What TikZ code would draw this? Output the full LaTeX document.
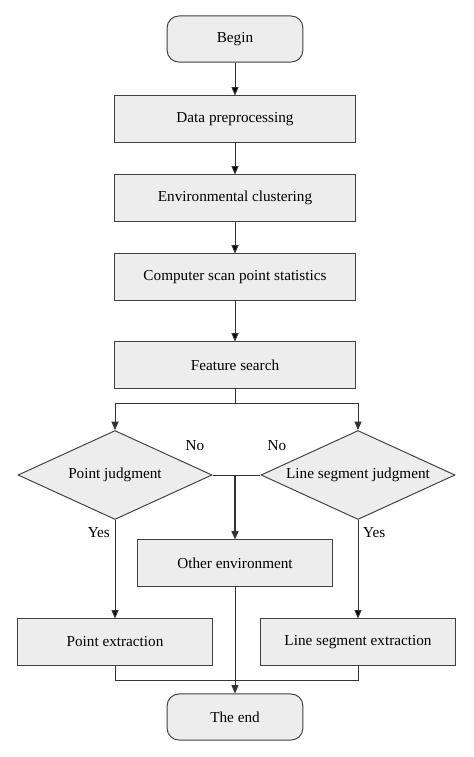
\documentclass[tikz,border=0pt]{standalone}
\usepackage{fontspec}
\setmainfont{Liberation Serif}
\usetikzlibrary{shapes.geometric,arrows.meta}

\tikzset{
	box/.style={draw=black!75,fill=black!7,line width=0.7pt,minimum width=6.1cm,minimum height=1.17cm,font=\fontsize{11}{13}\selectfont},
	smallbox/.style={box,minimum width=4.95cm},
	terminal/.style={box,minimum width=3.45cm,rounded corners=0.3cm},
	decision/.style={box,diamond,shape aspect=2.2,inner sep=0pt,minimum width=4.93cm,minimum height=2.26cm},
	label/.style={font=\fontsize{11}{13}\selectfont},
	link/.style={draw=black!80,line width=0.7pt,>={Triangle[length=6pt,width=5pt]}}
}

\begin{document}
\begin{tikzpicture}[x=0.0254cm,y=-0.0254cm]
		\useasboundingbox (0,0) rectangle (474,757);
		\node[terminal] (begin) at (235,39) {Begin};
		\node[box] (prep) at (235,119) {Data preprocessing};
		\node[box] (clust) at (235,198) {Environmental clustering};
		\node[box] (stat) at (235,277) {Computer scan point statistics};
		\node[box] (feat) at (235,365) {Feature search};
		\node[decision] (pj) at (115,475) {Point judgment};
		\node[decision] (lj) at (358,475) {Line segment judgment};
		\node[smallbox] (other) at (235,563) {Other environment};
		\node[smallbox] (pe) at (115,642) {Point extraction};
		\node[smallbox] (le) at (358,642) {Line segment extraction};
		\node[terminal] (end) at (235,717) {The end};
		\node[label] (no1) at (195,446) {No};
		\node[label] (no2) at (277,446) {No};
		\coordinate (split) at (235,403);
		\coordinate (mid) at (235,475);
		\coordinate (join) at (235,680);
		%
		\path[->,link]
		% main column
		(begin) edge (prep)
		(prep) edge (clust)
		(clust) edge (stat)
		(stat) edge (feat)
		% judgments
		(pj) edge node[label,left,pos=0.13]{Yes} (pe)
		(lj) edge node[label,right,pos=0.13]{Yes} (le);
		%
		\draw[link] (feat) -- (split);
		\draw[->,link] (split) -| (pj);
		\draw[->,link] (split) -| (lj);
		\draw[link] (pj.east) -- (lj.west);
		\draw[->,link,line width=1.1pt] (mid) -- (other);
		\draw[link] (pe) |- (join);
		\draw[link] (le) |- (join);
		\draw[->,link] (other) -- (end);
\end{tikzpicture}
\end{document}
